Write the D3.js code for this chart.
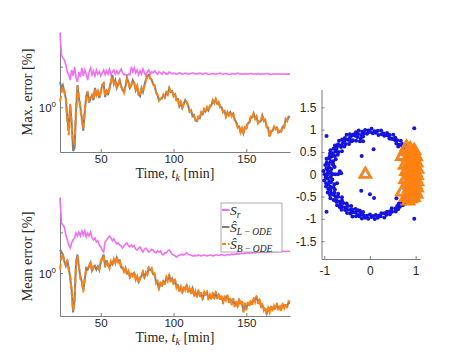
<!DOCTYPE html>
<html><head><meta charset="utf-8">
<script src="https://cdn.jsdelivr.net/npm/d3@7"></script>
<style>body{margin:0;background:#fff}</style>
</head><body><svg id="c" width="474" height="355"></svg>
<script>
// ---------- data ----------
const timeStart = 22, timeEnd = 180;           // t_k [min], one sample per minute
const timeTicks = [50, 100, 150];

const maxSr = [3.55,2.44,2.32,2.24,2.06,1.83,1.74,1.59,1.89,1.71,
1.99,1.65,1.54,1.83,1.68,1.96,1.71,1.89,1.76,1.59,
1.83,1.96,1.74,1.86,1.71,1.89,1.76,1.83,1.71,1.80,
1.89,1.74,1.86,1.76,1.92,1.74,1.83,1.89,1.76,1.86,
1.76,1.83,1.92,1.80,1.74,1.76,1.71,1.76,1.74,1.99,
1.83,1.96,1.80,1.89,1.74,1.86,1.76,1.92,1.80,1.71,
1.83,1.89,1.76,1.83,1.80,1.86,1.80,1.76,1.83,1.80,
1.76,1.83,1.80,1.76,1.76,1.83,1.80,1.77,1.79,1.77,
1.76,1.78,1.80,1.78,1.76,1.77,1.79,1.78,1.76,1.77,
1.78,1.80,1.78,1.77,1.76,1.78,1.79,1.77,1.76,1.77,
1.79,1.78,1.76,1.75,1.77,1.78,1.77,1.76,1.77,1.78,
1.79,1.77,1.76,1.77,1.78,1.77,1.75,1.76,1.78,1.77,
1.76,1.77,1.79,1.78,1.76,1.77,1.76,1.78,1.77,1.76,
1.77,1.78,1.77,1.76,1.77,1.76,1.78,1.77,1.76,1.77,
1.76,1.77,1.78,1.77,1.76,1.75,1.76,1.77,1.76,1.77,
1.76,1.77,1.76,1.76,1.77,1.76,1.76,1.76,1.76];

const maxL = [1.54,1.39,1.46,1.30,1.17,0.83,0.68,1.04,0.78,0.475,
0.50,0.92,1.46,1.17,1.00,0.83,0.67,0.92,1.21,1.30,
1.08,1.17,1.23,1.13,1.39,1.21,1.34,1.17,1.30,1.46,
1.51,1.19,1.34,1.23,1.39,1.54,1.74,1.49,1.59,1.39,
1.49,1.59,1.44,1.34,1.30,1.44,1.65,1.54,1.39,1.46,
1.59,1.51,1.34,1.44,1.25,1.21,1.39,1.30,1.46,1.59,
1.71,1.74,1.65,1.59,1.49,1.44,1.30,1.23,1.13,1.15,
1.17,1.23,1.19,1.28,1.25,1.39,1.30,1.32,1.22,1.25,
1.14,1.15,1.02,1.08,0.99,1.06,1.13,1.09,1.04,0.93,
0.95,0.86,0.88,0.80,0.79,0.84,0.83,0.91,0.89,0.96,
0.93,0.99,0.95,1.02,1.04,1.12,1.08,1.14,1.06,1.08,
1.01,1.00,0.93,0.94,0.86,0.91,0.88,0.92,0.87,0.90,
0.81,0.78,0.72,0.72,0.66,0.69,0.64,0.71,0.70,0.76,
0.77,0.84,0.84,0.90,0.83,0.85,0.77,0.78,0.79,0.87,
0.80,0.80,0.72,0.70,0.61,0.66,0.67,0.71,0.70,0.71,
0.65,0.66,0.67,0.72,0.72,0.81,0.80,0.85,0.84];

const maxB = [1.10,1.28,1.42,1.33,1.15,0.80,0.62,1.06,0.72,0.56,
0.54,0.98,1.42,1.20,0.98,0.80,0.70,0.95,1.18,1.32,
1.08,1.19,1.21,1.15,1.37,1.23,1.32,1.19,1.28,1.47,
1.49,1.21,1.32,1.25,1.37,1.55,1.70,1.51,1.57,1.41,
1.47,1.60,1.42,1.36,1.28,1.45,1.62,1.55,1.37,1.47,
1.57,1.52,1.32,1.45,1.23,1.22,1.37,1.31,1.44,1.60,
1.69,1.75,1.63,1.60,1.47,1.45,1.28,1.24,1.12,1.16,
1.16,1.24,1.18,1.29,1.24,1.40,1.29,1.33,1.21,1.26,
1.13,1.16,1.01,1.09,0.98,1.07,1.12,1.10,1.03,0.94,
0.94,0.87,0.87,0.81,0.78,0.85,0.82,0.92,0.88,0.97,
0.92,1.00,0.94,1.03,1.03,1.13,1.07,1.15,1.05,1.09,
1.00,1.01,0.92,0.95,0.85,0.92,0.87,0.93,0.86,0.91,
0.80,0.79,0.71,0.73,0.65,0.70,0.63,0.72,0.69,0.77,
0.76,0.85,0.83,0.91,0.82,0.86,0.76,0.79,0.78,0.88,
0.79,0.81,0.71,0.71,0.60,0.67,0.66,0.72,0.69,0.72,
0.64,0.67,0.66,0.73,0.71,0.82,0.79,0.86,0.85];

const meanSr = [3.59,2.35,2.27,2.19,1.91,1.76,1.61,1.53,1.67,1.76,
1.82,1.98,1.88,2.01,1.88,2.05,1.91,2.05,1.85,1.98,
1.88,2.01,1.82,1.76,1.82,1.70,1.73,1.61,1.56,1.48,
1.43,1.70,1.76,1.82,1.88,1.82,1.73,1.79,1.70,1.64,
1.67,1.61,1.59,1.53,1.59,1.64,1.67,1.59,1.56,1.61,
1.56,1.59,1.50,1.48,1.53,1.56,1.48,1.43,1.50,1.53,
1.48,1.43,1.46,1.50,1.48,1.43,1.41,1.46,1.43,1.46,
1.38,1.36,1.41,1.41,1.46,1.48,1.43,1.38,1.36,1.34,
1.31,1.34,1.36,1.36,1.38,1.36,1.38,1.41,1.38,1.36,
1.36,1.34,1.34,1.35,1.34,1.36,1.35,1.34,1.35,1.36,
1.35,1.34,1.35,1.36,1.35,1.34,1.35,1.36,1.36,1.35,
1.36,1.37,1.36,1.35,1.36,1.37,1.36,1.37,1.38,1.37,
1.38,1.38,1.39,1.38,1.39,1.40,1.39,1.40,1.40,1.41,
1.40,1.41,1.41,1.42,1.41,1.42,1.42,1.42,1.43,1.42,
1.43,1.43,1.42,1.43,1.43,1.44,1.43,1.44,1.44,1.44,
1.44,1.45,1.44,1.45,1.45,1.44,1.45,1.45,1.45];

const meanL = [1.49,1.43,1.37,1.21,1.13,1.25,1.09,0.92,0.75,0.51,
0.63,1.19,1.37,1.09,0.95,0.86,0.75,0.89,1.09,1.06,
1.13,1.19,1.04,1.10,1.13,1.06,1.12,1.05,1.21,1.29,
1.37,1.10,1.24,1.14,1.10,1.20,1.16,1.25,1.20,1.30,
1.22,1.24,1.10,1.08,1.04,1.07,0.99,1.01,0.93,0.99,
0.97,1.00,0.91,0.93,0.86,0.91,0.95,1.02,0.93,0.99,
0.99,1.09,1.05,1.06,0.98,0.97,0.86,0.85,0.77,0.84,
0.81,0.87,0.84,0.91,0.89,0.96,0.88,0.91,0.84,0.88,
0.80,0.81,0.75,0.77,0.72,0.78,0.77,0.81,0.73,0.75,
0.72,0.77,0.69,0.71,0.68,0.73,0.68,0.70,0.65,0.70,
0.69,0.72,0.65,0.67,0.65,0.70,0.66,0.71,0.66,0.69,
0.65,0.66,0.61,0.66,0.65,0.67,0.62,0.64,0.60,0.63,
0.58,0.60,0.57,0.63,0.60,0.60,0.52,0.58,0.55,0.59,
0.58,0.61,0.60,0.64,0.63,0.66,0.61,0.63,0.57,0.58,
0.55,0.54,0.50,0.53,0.53,0.56,0.54,0.55,0.55,0.58,
0.55,0.56,0.54,0.58,0.57,0.58,0.57,0.60,0.60];

const meanB = [1.06,1.30,1.40,1.18,1.16,1.22,1.05,0.95,0.72,0.53,
0.60,1.22,1.33,1.12,0.90,0.88,0.72,0.92,1.06,1.09,
1.11,1.21,1.02,1.12,1.11,1.08,1.10,1.07,1.19,1.31,
1.35,1.12,1.22,1.16,1.08,1.22,1.14,1.27,1.18,1.32,
1.20,1.26,1.08,1.10,1.02,1.09,0.97,1.03,0.91,1.01,
0.95,1.02,0.89,0.95,0.84,0.93,0.93,1.04,0.91,1.01,
0.97,1.11,1.03,1.08,0.96,0.99,0.84,0.87,0.75,0.86,
0.79,0.89,0.82,0.93,0.87,0.98,0.86,0.93,0.82,0.90,
0.78,0.83,0.73,0.79,0.70,0.80,0.75,0.83,0.71,0.77,
0.70,0.79,0.67,0.73,0.66,0.75,0.66,0.72,0.63,0.72,
0.67,0.74,0.63,0.69,0.63,0.72,0.64,0.73,0.64,0.71,
0.63,0.68,0.59,0.68,0.63,0.69,0.60,0.66,0.58,0.65,
0.56,0.62,0.55,0.65,0.58,0.62,0.51,0.60,0.53,0.61,
0.56,0.63,0.58,0.66,0.61,0.68,0.59,0.65,0.55,0.60,
0.53,0.56,0.49,0.55,0.51,0.58,0.52,0.57,0.53,0.60,
0.53,0.58,0.52,0.60,0.55,0.60,0.55,0.62,0.61];

// eigenvalues: ring rows (radius per angle sample) and scattered ones
const outerRowRadius = [0.99,1.01,0.97,1.00,0.98,1.02,0.96,0.99,1.01,0.97,
1.00,0.98,1.01,0.97,0.99,1.02,0.98,1.00,0.96,1.01,
0.99,0.97,1.02,0.98,1.00,0.97,1.01,0.99,0.96,1.00,
1.02,0.98,0.99,1.01,0.97,1.00,0.98,1.02,0.99,0.97,
1.01,0.98,1.00,0.96,1.02,0.99,0.97,1.01,0.98,1.00,
0.97,1.01,0.99,1.02,0.98,0.96,1.00,0.99,1.01,0.97,
1.00,0.98,1.02,0.99,0.97,1.01,0.98,1.00,0.96,1.01,
0.99,0.97,1.02,0.98,1.00,0.97,1.01,0.99,0.98,1.00,
1.02,0.97,0.99,1.01,0.98,1.00,0.96,1.01,0.99,0.98];
const innerRowRadius = [0.93,0.91,0.94,0.92,0.95,0.90,0.93,0.92,0.94,0.91,
0.95,0.92,0.90,0.94,0.93,0.91,0.95,0.92,0.93,0.90,
0.94,0.92,0.95,0.91,0.93,0.90,0.94,0.92,0.95,0.93,
0.91,0.94,0.92,0.90,0.95,0.93,0.91,0.94,0.92,0.95,
0.90,0.93,0.91,0.94,0.92,0.95,0.93,0.90,0.94,0.91,
0.93,0.95,0.92,0.90,0.94,0.91,0.93,0.95,0.92,0.94,
0.90,0.93,0.91,0.95,0.92,0.94,0.93,0.90,0.94,0.92,
0.95,0.91,0.93,0.92,0.94,0.90,0.95,0.93,0.91,0.94,
0.92,0.95,0.90,0.93,0.91,0.94,0.92,0.95,0.93,0.91];
const leftRowRadius = [0.86,0.83,0.88,0.81,0.85,0.87,0.82,0.86,0.84,0.88,
0.80,0.85,0.83,0.87,0.82,0.86,0.84,0.79,0.85,0.88,
0.82,0.86,0.83,0.87,0.81,0.85,0.84,0.88,0.82,0.86,
0.80,0.85,0.87,0.83,0.86,0.82,0.88,0.84,0.85,0.87,0.86];
const strayRe = [-0.95,0.97,0.97,-0.95,-0.18,0.08,-0.19,0.00,0.09,-0.63,-0.84,-0.76,-0.70,-0.92,-0.66,-0.40,-0.22,-0.15,0.62,0.58,0.62,-0.22,-0.40,0.45,-0.72,-0.80];
const strayIm = [0.86,1.03,-1.00,-0.84,0.41,0.56,-0.37,-0.45,-0.53,0.02,0.02,0.00,0.00,0.00,0.07,0.74,0.74,0.74,0.62,-0.54,-0.78,-0.82,-0.83,0.80,-0.20,0.20];
const estRe = [1.02,0.99,1.03,1.00,1.04,0.99,1.03,1.00,1.04,0.99,1.02,0.98,1.01,0.97,
0.90,0.93,0.91,0.94,0.90,0.93,0.91,0.94,0.90,0.93,0.91,0.94,0.89,0.92,0.88,
0.84,0.82,0.85,0.83,0.86,0.82,0.85,0.83,0.84,0.80,
0.78,0.77,0.79,0.76,0.76,0.96,0.97,0.95,0.70,0.70,-0.10];
const estIm = [-0.45,-0.38,-0.31,-0.24,-0.17,-0.10,-0.03,0.04,0.11,0.18,0.25,0.32,0.39,0.46,
-0.55,-0.47,-0.39,-0.30,-0.22,-0.14,-0.06,0.02,0.10,0.18,0.26,0.34,0.42,0.50,0.57,
-0.60,-0.50,-0.33,-0.18,-0.04,0.10,0.24,0.38,0.50,0.61,
-0.52,-0.12,0.06,0.20,0.52,-0.52,0.53,0.08,0.40,-0.40,0.00];
const reTicks = [-1, 0, 1];
const imTicks = [-1.5, -1, -0.5, 0, 0.5, 1, 1.5];

// ---------- drawing ----------
const svg = d3.select("#c");
svg.append("rect").attr("width",474).attr("height",355).attr("fill","#fff");
const times = d3.range(timeStart, timeEnd + 1);
const C = {sr:"#f26ef2", l:"#808080", b:"#ff8210", axis:"#7d7d7d"};
const serif = "'Liberation Serif','DejaVu Serif',serif";
const sans = "'Liberation Sans',Arial,sans-serif";

function panel(top, bottom, one, ylab, sr, l, b) {
  const x = d3.scaleLinear().domain([timeStart, timeEnd]).range([60, 290]);
  const dec = 135;
  const y = d3.scaleLog()
    .domain([Math.pow(10, -(bottom - one) / dec), Math.pow(10, (one - top) / dec)])
    .range([bottom, top]);
  const g = svg.append("g");
  const xa = g.append("g").attr("transform", `translate(0,${bottom})`)
    .call(d3.axisBottom(x).tickValues(timeTicks).tickSizeInner(-3).tickSizeOuter(0).tickPadding(3));
  const ya = g.append("g").attr("transform", "translate(60,0)")
    .call(d3.axisLeft(y).tickValues([1, 2]).tickSizeInner(-3).tickSizeOuter(0).tickFormat(""));
  [xa, ya].forEach(a => {
    a.select(".domain").attr("stroke", C.axis);
    a.selectAll(".tick line").attr("stroke", C.axis);
    a.selectAll("text").attr("font-family", sans).attr("font-size", 11.5).attr("fill", "#262626");
  });
  const tl = g.append("text").attr("x", 56).attr("y", y(1) + 4.5).attr("text-anchor", "end")
    .attr("font-family", sans).attr("font-size", 11.5).attr("fill", "#262626");
  tl.append("tspan").text("10");
  tl.append("tspan").attr("dy", -5).attr("font-size", 8).text("0");

  const line = d3.line().x((d, i) => x(times[i])).y(d => y(d));
  g.append("path").datum(sr).attr("d", line).attr("fill", "none").attr("stroke", C.sr).attr("stroke-width", 1.6);
  g.append("path").datum(l).attr("d", line).attr("fill", "none").attr("stroke", C.l).attr("stroke-width", 2);
  g.append("path").datum(b).attr("d", line).attr("fill", "none").attr("stroke", C.b).attr("stroke-width", 2)
    .attr("stroke-dasharray", "6,3");

  const xl = g.append("text").attr("x", 175).attr("y", bottom + 26).attr("text-anchor", "middle")
    .attr("font-family", serif).attr("font-size", 14).attr("fill", "#262626");
  xl.append("tspan").text("Time, ");
  xl.append("tspan").attr("font-style", "italic").text("t");
  xl.append("tspan").attr("font-style", "italic").attr("font-size", 10).attr("dy", 3).text("k");
  xl.append("tspan").attr("dy", -3).text(" [min]");
  g.append("text").attr("transform", `translate(32,${(top + bottom) / 2 - 0}) rotate(-90)`)
    .attr("text-anchor", "middle").attr("font-family", serif).attr("font-size", 14.5)
    .attr("fill", "#262626").text(ylab);
  return {x, y};
}
panel(32, 152, 107.3, "Max. error [%]", maxSr, maxL, maxB);
panel(197, 316, 273, "Mean error [%]", meanSr, meanL, meanB);

// legend
const lg = svg.append("g");
lg.append("rect").attr("x", 221).attr("y", 203).attr("width", 61).attr("height", 49)
  .attr("fill", "#fff").attr("stroke", "#9a9a9a").attr("stroke-width", 0.8);
const legendItems = [
  {c: C.sr, dash: null, hat: false, sub: "r"},
  {c: C.l, dash: null, hat: true, sub: "L\u2009\u2212\u2009ODE"},
  {c: C.b, dash: "4,2", hat: true, sub: "B\u2009\u2212\u2009ODE"}
];
legendItems.forEach((it, i) => {
  const yy = 210 + i * 17;
  lg.append("line").attr("x1", 222).attr("x2", 229.5).attr("y1", yy).attr("y2", yy)
    .attr("stroke", it.c).attr("stroke-width", 2).attr("stroke-dasharray", it.dash);
  const t = lg.append("text").attr("x", 230).attr("y", yy + 4.5).attr("font-family", serif)
    .attr("font-style", "italic").attr("font-size", 13.5).attr("fill", "#262626");
  t.append("tspan").text(it.hat ? "\u015C" : "S");
  t.append("tspan").attr("dy", 3).attr("font-size", 9.5).text(it.sub);
});

// eigenvalue plot
const xs = d3.scaleLinear().domain([-1.06, 1.1]).range([321.5, 420.2]);
const ys = d3.scaleLinear().domain([-1.9, 1.9]).range([259, 89.5]);
const eg = svg.append("g");
const xax = eg.append("g").attr("transform", "translate(0,259)")
  .call(d3.axisBottom(xs).tickValues(reTicks).tickSizeInner(-3).tickSizeOuter(0).tickPadding(7).tickFormat(d => String(d)));
const yax = eg.append("g").attr("transform", "translate(321.5,0)")
  .call(d3.axisLeft(ys).tickValues(imTicks).tickSizeInner(-3).tickSizeOuter(0).tickPadding(5).tickFormat(d => String(d)));
[xax, yax].forEach(a => {
  a.select(".domain").attr("stroke", C.axis);
  a.selectAll(".tick line").attr("stroke", C.axis);
  a.selectAll("text").attr("font-family", sans).attr("font-size", 12).attr("fill", "#262626");
});

const ring = [];
const outerAng = d3.range(0, 360, 4), innerAng = d3.range(2, 360, 4), leftAng = d3.range(100, 261, 4);
outerAng.forEach((a, i) => ring.push([outerRowRadius[i], a]));
innerAng.forEach((a, i) => ring.push([innerRowRadius[i], a]));
leftAng.forEach((a, i) => ring.push([leftRowRadius[i], a]));
const blue = ring.map(([r, a]) => [r * Math.cos(a * Math.PI / 180), r * Math.sin(a * Math.PI / 180)]);
strayRe.forEach((v, i) => blue.push([v, strayIm[i]]));
eg.selectAll("circle.ev").data(blue).join("circle").attr("class", "ev")
  .attr("cx", d => xs(d[0])).attr("cy", d => ys(d[1])).attr("r", 2).attr("fill", "#1414dc");

const tri = d3.symbol().type(d3.symbolTriangle);
const est = estRe.map((v, i) => [v, estIm[i]]);
eg.selectAll("path.g").data(est).join("path").attr("class", "g")
  .attr("transform", d => `translate(${xs(d[0])},${ys(d[1])})`)
  .attr("d", tri.size(22)()).attr("fill", "none").attr("stroke", "#9a8f9a").attr("stroke-width", 1);
eg.selectAll("path.o").data(est).join("path").attr("class", "o")
  .attr("transform", d => `translate(${xs(d[0])},${ys(d[1])})`)
  .attr("d", tri.size(60)()).attr("fill", "none").attr("stroke", C.b).attr("stroke-width", 2.2);
</script></body></html>
